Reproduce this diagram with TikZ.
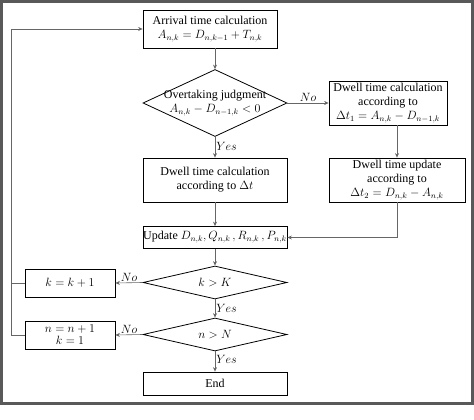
\documentclass[tikz,border=0pt]{standalone}
\usepackage{amsmath,amssymb}
\usepackage{fontspec}
\setmainfont{Liberation Serif}
\usetikzlibrary{shapes.geometric,arrows.meta}

\begin{document}
\begin{tikzpicture}[x=1pt, y=-1pt,
  every node/.style={font=\fontsize{12}{14}\selectfont},
  box/.style={draw, line width=.8pt, align=center, inner sep=0pt},
  dec/.style={draw, line width=.8pt, diamond, inner sep=0pt},
  conn/.style={draw=black!60, line width=.6pt, -{Stealth[length=4.5pt,width=4pt]}},
  plainconn/.style={draw=black!60, line width=.6pt},
  lab/.style={inner sep=1pt}]

  \def\W{144}

  % Frame
  \useasboundingbox (0,0) rectangle (474,420);
  \draw[black!65, line width=3pt] (1.5,1.5) rectangle (472.5,403.5);

  % Boxes
  \node[box, minimum width=134, minimum height=38] (arrival) at (210,29)
    {Arrival time calculation\\ $A_{n,k}=D_{n,k-1}+T_{n,k}$};
  \node[dec, minimum width=\W, minimum height=67,
    label={center:\shortstack{Overtaking judgment\\ $A_{n,k}-D_{n-1,k}<0$}}] (judge) at (215,103) {};
  \node[box, minimum width=118, minimum height=44] (dwellA) at (388,103)
    {Dwell time calculation\\ according to\\ $\Delta t_1=A_{n,k}-D_{n-1,k}$};
  \node[box, minimum width=136, minimum height=44] (dwellB) at (397,180)
    {Dwell time update\\ according to\\ $\Delta t_2=D_{n,k}-A_{n,k}$};
  \node[box, minimum width=\W, minimum height=44] (dwell) at (215,180)
    {Dwell time calculation\\ according to $\Delta t$};
  \node[box, minimum width=\W, minimum height=22] (update) at (215,237.5)
    {Update $D_{n,k}, Q_{n,k}\,, R_{n,k}\,, P_{n,k}$};
  \node[dec, minimum width=\W, minimum height=33,
    label={center:$k>K$}] (kcheck) at (215,282.5) {};
  \node[dec, minimum width=\W, minimum height=33,
    label={center:$n>N$}] (ncheck) at (215,334.5) {};
  \node[box, minimum width=\W, minimum height=23] (finish) at (215,383.5) {End};
  \node[box, minimum width=90, minimum height=28] (knext) at (70,283) {$k=k+1$};
  \node[box, minimum width=90, minimum height=28] (nnext) at (70,335)
    {$n=n+1$\\[-2pt] $k=1$};

  % Connectors
  \coordinate (loop) at (11,29);
  \draw[conn] (judge.north |- arrival.south) -- (judge.north);
  \draw[conn] (judge.east) -- node[lab, above] {$No$} (dwellA.west);
  \draw[conn] (judge.south) -- node[lab, right, pos=.45] {$Yes$} (dwell.north);
  \draw[conn] (dwellB.north |- dwellA.south) -- (dwellB.north);
  \draw[conn] (dwellB.south) |- (update.east);
  \draw[conn] (dwell.south) -- (update.north);
  \draw[conn] (update.south) -- (kcheck.north);
  \draw[conn] (kcheck.south) -- node[lab, right] {$Yes$} (ncheck.north);
  \draw[conn] (ncheck.south) -- node[lab, right, pos=.4] {$Yes$} (finish.north);
  \draw[conn] (kcheck.west) -- node[lab, above] {$No$} (knext.east);
  \draw[conn] (ncheck.west) -- node[lab, above] {$No$} (nnext.east);
  \draw[plainconn] (knext.west) -- (knext.west -| loop);
  \draw[conn] (nnext.west) -| (loop) -- (arrival.west);
\end{tikzpicture}
\end{document}
